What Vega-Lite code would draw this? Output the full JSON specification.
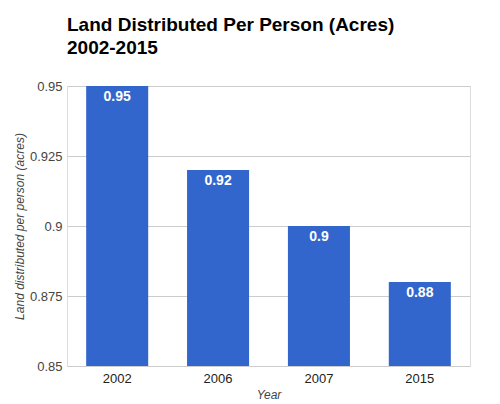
{
  "$schema": "https://vega.github.io/schema/vega-lite/v6.json",
  "autosize": {"type": "none"},
  "padding": {"left": 67, "top": 86, "right": 30, "bottom": 38},
  "width": 403,
  "height": 280,
  "background": "white",
  "title": {
    "text": ["Land Distributed Per Person (Acres)", "2002-2015"],
    "anchor": "start",
    "frame": "group",
    "font": "Liberation Sans",
    "fontSize": 19,
    "fontWeight": "bold",
    "color": "#000000",
    "lineHeight": 23,
    "offset": 22
  },
  "data": {
    "values": [
      {"Year": "2002", "Land": 0.95},
      {"Year": "2006", "Land": 0.92},
      {"Year": "2007", "Land": 0.90},
      {"Year": "2015", "Land": 0.88}
    ]
  },
  "encoding": {
    "x": {
      "field": "Year",
      "type": "nominal",
      "scale": {"paddingInner": 0.385, "paddingOuter": 0.19},
      "axis": {
        "title": "Year",
        "titleFont": "Liberation Sans",
        "titleFontStyle": "italic",
        "titleFontWeight": "normal",
        "titleFontSize": 12,
        "titleColor": "#444444",
        "titlePadding": 4,
        "labelAngle": 0,
        "labelFont": "Liberation Sans",
        "labelFontSize": 13,
        "labelColor": "#222222",
        "labelPadding": 6,
        "ticks": false,
        "domain": false
      }
    }
  },
  "layer": [
    {
      "mark": {"type": "bar", "color": "#3366cc"},
      "encoding": {
        "y": {
          "field": "Land",
          "type": "quantitative",
          "scale": {"domain": [0.85, 0.95], "zero": false, "nice": false},
          "axis": {
            "title": "Land distributed per person (acres)",
            "titleFont": "Liberation Sans",
            "titleFontStyle": "italic",
            "titleFontWeight": "normal",
            "titleFontSize": 12,
            "titleColor": "#444444",
            "titlePadding": 3,
            "values": [0.85, 0.875, 0.9, 0.925, 0.95],
            "format": ".3~g",
            "labelFont": "Liberation Sans",
            "labelFontSize": 13,
            "labelColor": "#444444",
            "labelPadding": 5,
            "ticks": false,
            "domain": false,
            "gridColor": "#cccccc"
          }
        },
        "y2": {"datum": 0.85}
      }
    },
    {
      "mark": {
        "type": "text",
        "color": "white",
        "font": "Liberation Sans",
        "fontWeight": "bold",
        "fontSize": 14,
        "baseline": "top",
        "dy": 4
      },
      "encoding": {
        "y": {"field": "Land", "type": "quantitative"},
        "text": {"field": "Land", "type": "quantitative", "format": ".2~f"}
      }
    }
  ]
}
